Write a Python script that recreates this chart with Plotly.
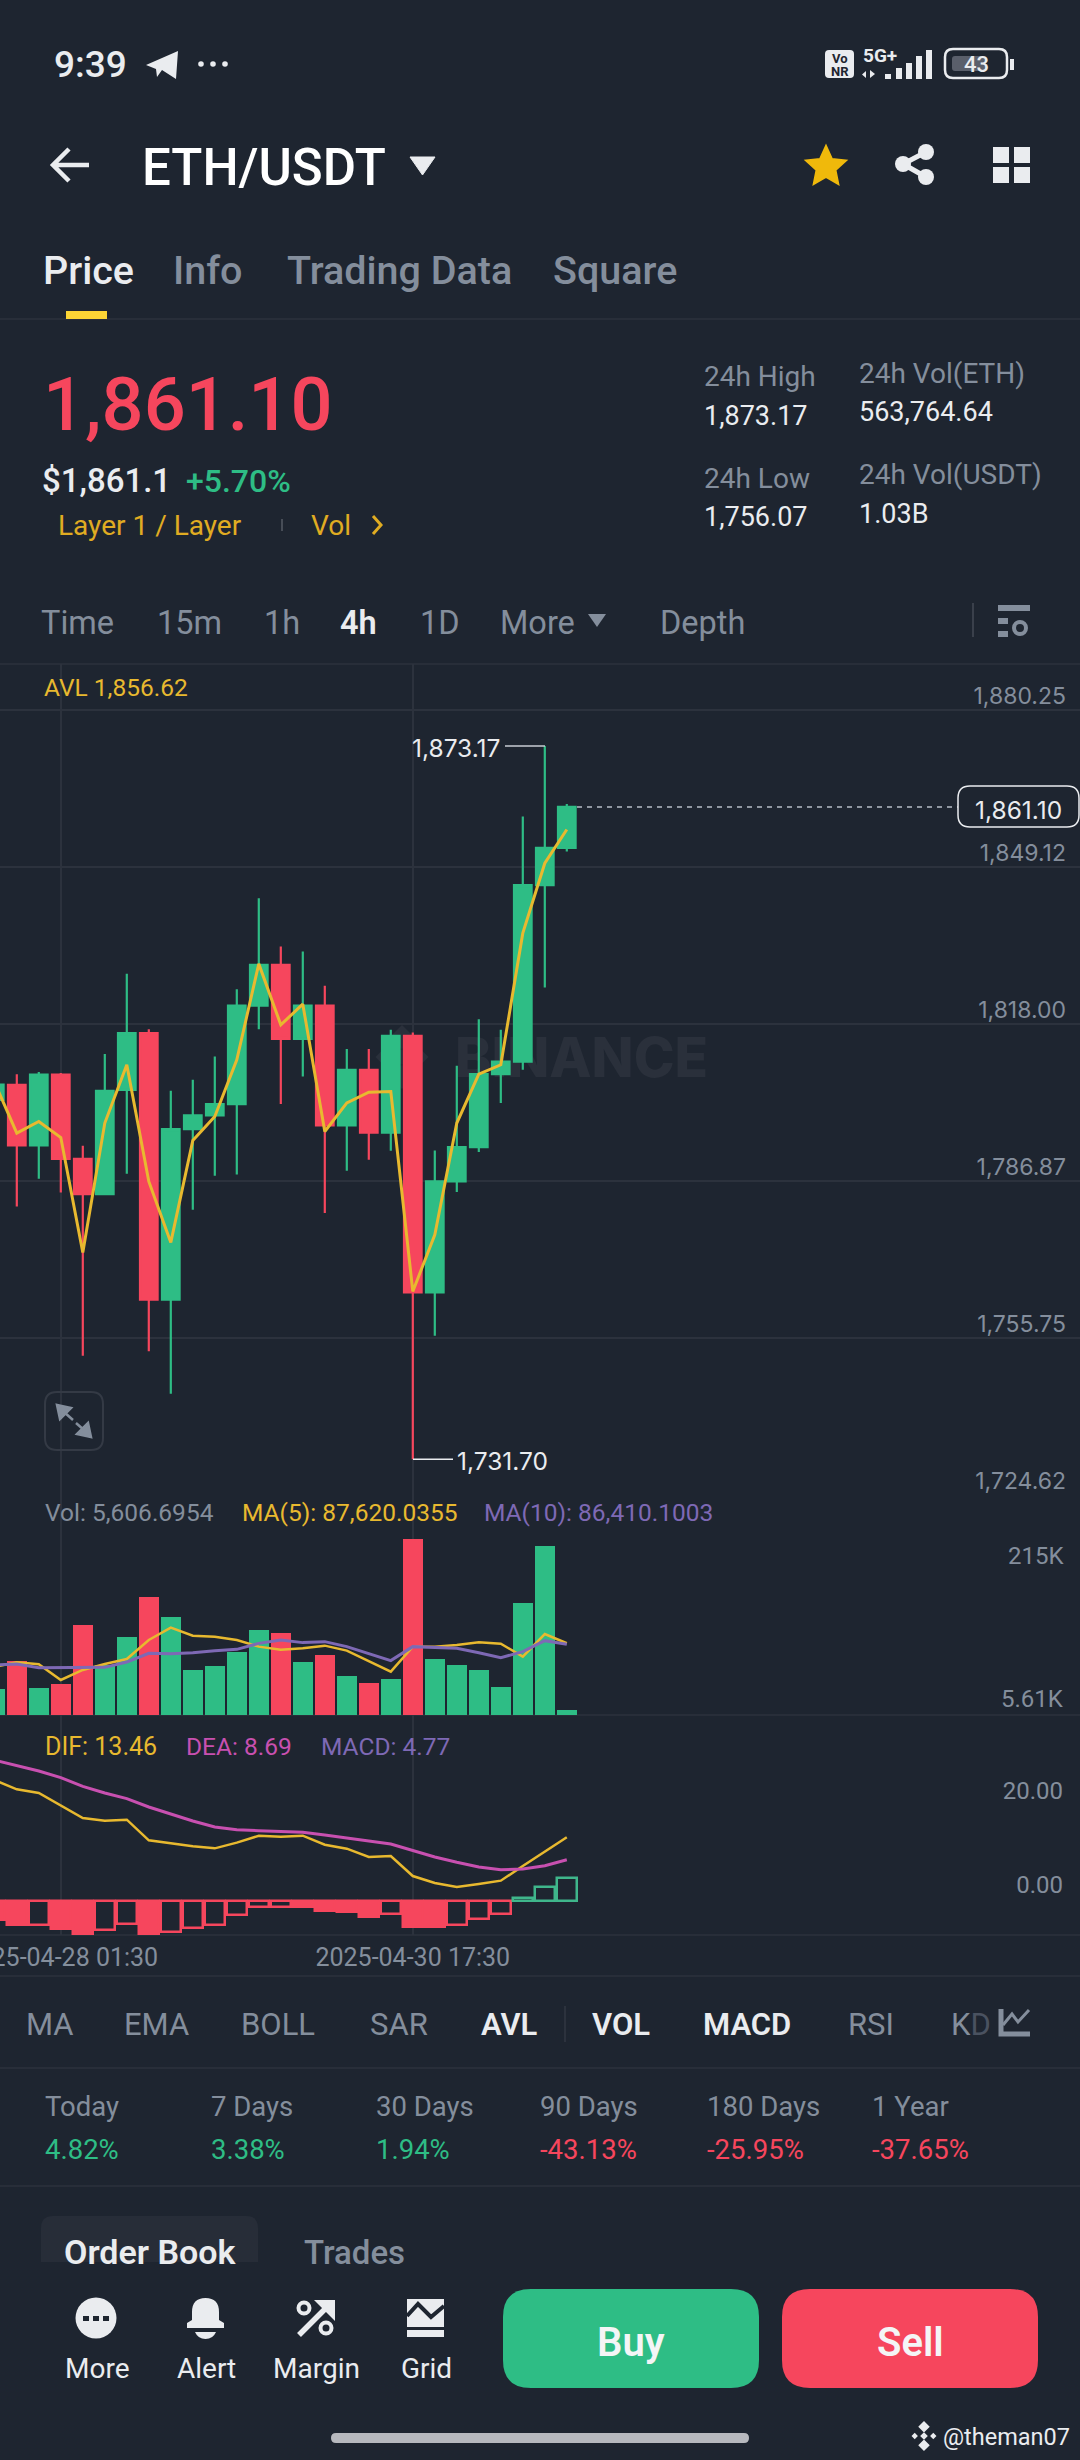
import math

import plotly.graph_objects as go

W, H = 1080, 2460
BG = "#1E2530"
GRID = "#2C323D"
GREEN = "#2EBD85"
RED = "#F6465D"
GOLD = "#F0B90B"
YEL = "#E8B92F"
GRAY = "#848E9C"
LIGHT = "#EAECEF"
PURPLE = "#7E69B5"
MAGENTA = "#C850B0"
FONT = "Roboto"

# -- data ---------------------------------------------------------------
candle_x = list(range(-1, 26))
opens = [1803.00, 1805.98, 1793.95, 1808.02, 1791.31, 1784.31, 1804.99, 1816.23, 1763.36,
         1797.20, 1799.90, 1802.16, 1821.70, 1829.77, 1815.10, 1821.70, 1797.91, 1808.96,
         1796.47, 1815.70, 1764.80, 1786.81, 1793.63, 1808.10, 1810.60, 1845.57, 1852.97]
highs = [1807.00, 1808.10, 1808.50, 1808.30, 1793.89, 1812.07, 1827.99, 1817.02, 1804.79,
         1806.97, 1811.59, 1824.96, 1843.00, 1833.40, 1832.41, 1825.61, 1813.06, 1813.06,
         1816.89, 1816.35, 1792.96, 1809.75, 1819.01, 1816.89, 1859.18, 1873.17, 1861.69]
lows = [1802.00, 1781.85, 1787.34, 1784.63, 1752.25, 1784.31, 1788.34, 1753.11, 1744.72,
        1781.20, 1787.94, 1788.20, 1817.02, 1802.16, 1807.63, 1780.54, 1788.93, 1791.11,
        1792.90, 1731.70, 1756.22, 1784.71, 1792.64, 1802.35, 1808.96, 1825.27, 1852.24]
closes = [1806.00, 1793.95, 1808.02, 1791.31, 1784.31, 1804.79, 1816.23, 1763.36, 1797.20,
          1799.90, 1802.16, 1821.70, 1829.77, 1815.10, 1821.70, 1797.91, 1808.96, 1796.47,
          1815.70, 1764.80, 1786.81, 1793.63, 1808.10, 1810.60, 1845.57, 1852.97, 1861.10]
avl = [1806.38, 1796.41, 1798.70, 1795.53, 1772.73, 1798.39, 1809.95, 1786.81, 1774.72,
       1794.94, 1799.70, 1810.94, 1829.97, 1817.88, 1821.98, 1796.72, 1802.41, 1804.53,
       1804.65, 1765.00, 1776.24, 1798.39, 1808.10, 1809.95, 1836.06, 1849.94, 1856.62]
volume = [31.8, 65.6, 32.6, 37.5, 110.4, 61.1, 95.7, 143.7, 119.3, 55.4, 60.3, 77.4, 104.2,
          100.6, 64.3, 73.7, 47.6, 39.1, 43.6, 215.0, 68.0, 61.1, 54.6, 34.6, 136.4, 206.9, 5.61]
vol_ma5 = [59.0, 64.3, 61.9, 42.8, 55.0, 62.3, 68.4, 91.6, 106.7, 96.9, 95.7, 91.6, 83.5,
           79.8, 81.4, 84.7, 78.6, 66.0, 52.9, 83.5, 83.5, 85.5, 88.8, 87.1, 71.3, 98.9, 87.62]
vol_ma10 = [61.1, 62.3, 57.8, 57.8, 57.8, 58.2, 64.7, 75.3, 74.9, 76.1, 78.6, 80.2, 87.5,
            91.6, 88.4, 89.6, 83.5, 75.3, 66.4, 83.5, 82.7, 81.4, 76.1, 70.0, 77.4, 90.8, 86.41]
dif = [25.46, 23.56, 22.78, 20.18, 17.51, 16.95, 17.16, 12.80, 12.10, 11.53, 11.11, 12.31, 13.78,
       13.57, 13.78, 11.88, 11.04, 9.28, 9.49, 5.27, 3.80, 2.95, 3.59, 4.29, 7.38, 10.48, 13.46]
dea = [29.68, 28.62, 27.43, 26.02, 24.19, 22.78, 21.59, 19.83, 18.28, 16.88, 15.61, 15.05, 14.84,
       14.63, 14.49, 13.92, 13.36, 12.66, 12.03, 10.69, 9.28, 8.16, 7.17, 6.61, 6.75, 7.45, 8.69]
macd = [-4.08, -5.13, -4.99, -5.84, -6.96, -6.19, -4.78, -7.24, -6.54, -5.63, -4.99, -3.02, -1.30,
        -1.20, -1.30, -2.18, -2.39, -3.38, -2.67, -5.41, -5.56, -5.13, -3.80, -2.67, 0.70, 2.95, 4.77]

price_ticks = [1880.25, 1849.12, 1818.00, 1786.87, 1755.75, 1724.62]
price_labels = ["1,880.25", "1,849.12", "1,818.00", "1,786.87", "1,755.75", "1,724.62"]
macd_ticks = [20, 0]
macd_labels = ["20.00", "0.00"]
date_ticks = [2, 18]
date_labels = ["2025-04-28 01:30", "2025-04-30 17:30"]
last_price = 1861.10
high_price = 1873.17
low_price = 1731.70

tabs = [("Price", 42, LIGHT), ("Info", 172, GRAY), ("Trading Data", 286, GRAY), ("Square", 552, GRAY)]
intervals = [("Time", 40, GRAY), ("15m", 156, GRAY), ("1h", 263, GRAY), ("4h", 339, LIGHT),
             ("1D", 419, GRAY), ("More", 499, GRAY), ("Depth", 659, GRAY)]
indicators = [("MA", 25, GRAY), ("EMA", 123, GRAY), ("BOLL", 240, GRAY), ("SAR", 369, GRAY),
              ("AVL", 480, LIGHT), ("VOL", 591, LIGHT), ("MACD", 702, LIGHT), ("RSI", 847, GRAY),
              ("K<span style='color:#4A5260'>D</span>", 950, GRAY)]
periods = ["Today", "7 Days", "30 Days", "90 Days", "180 Days", "1 Year"]
period_x = [44, 210, 375, 539, 706, 871]
period_vals = ["4.82%", "3.38%", "1.94%", "-43.13%", "-25.95%", "-37.65%"]
footer = [("More", 97), ("Alert", 206), ("Margin", 316), ("Grid", 426)]


# -- helpers: everything on the phone chrome is placed in screen pixels ---
annots = []
shapes = []


def dom(top, bottom):
    return [1 - bottom / H, 1 - top / H]


def text(x, y, s, size, color, anchor="left", weight=400, family=FONT):
    annots.append(dict(xref="x4", yref="y4", x=x, y=y, text=s, showarrow=False, xanchor=anchor,
                       yanchor="middle", borderpad=0,
                       font=dict(size=size, color=color, family=family, weight=weight)))


def rect(x0, y0, x1, y1, fill):
    shapes.append(dict(type="rect", xref="x4", yref="y4", x0=x0, y0=y0, x1=x1, y1=y1,
                       fillcolor=fill, line_width=0))


def circle(cx, cy, r, fill, line=None, lw=0):
    shapes.append(dict(type="circle", xref="x4", yref="y4", x0=cx - r, y0=cy - r, x1=cx + r, y1=cy + r,
                       fillcolor=fill, line=dict(color=line or fill, width=lw)))


def path(d, fill=None, line=None, lw=0):
    shapes.append(dict(type="path", xref="x4", yref="y4", path=d,
                       fillcolor=fill or "rgba(0,0,0,0)", line=dict(color=line or "rgba(0,0,0,0)", width=lw)))


def rrect(x0, y0, x1, y1, r):
    return (f"M{x0 + r},{y0} L{x1 - r},{y0} Q{x1},{y0} {x1},{y0 + r} L{x1},{y1 - r} Q{x1},{y1} {x1 - r},{y1} "
            f"L{x0 + r},{y1} Q{x0},{y1} {x0},{y1 - r} L{x0},{y0 + r} Q{x0},{y0} {x0 + r},{y0} Z")


def star(cx, cy, R, r):
    pts = []
    for i in range(10):
        a = -math.pi / 2 + i * math.pi / 5
        rad = R if i % 2 == 0 else r
        pts.append(f"{cx + rad * math.cos(a):.1f},{cy + rad * math.sin(a):.1f}")
    return "M" + " L".join(pts) + " Z"


def diamond(cx, cy, r):
    return f"M{cx},{cy - r} L{cx + r},{cy} L{cx},{cy + r} L{cx - r},{cy} Z "


def logo(cx, cy, R):
    k = R * 0.58
    return (diamond(cx, cy, R * 0.24) + diamond(cx - k, cy, R * 0.2) + diamond(cx + k, cy, R * 0.2)
            + diamond(cx, cy - k, R * 0.36) + diamond(cx, cy + k, R * 0.36))


# -- rules between the page sections
for yy in [319, 664, 1715, 1935, 1976, 2068, 2186]:
    shapes.append(dict(type="line", xref="paper", yref="paper", x0=0, x1=1, y0=1 - yy / H, y1=1 - yy / H,
                       line=dict(color=GRID, width=1.5), layer="below"))

# -- watermark sits under the candles
shapes.append(dict(type="rect", xref="paper", yref="paper", x0=451 / W, x1=712 / W, y0=1 - 1076 / H,
                   y1=1 - 1034 / H, line_width=0, fillcolor="rgba(0,0,0,0)", layer="below",
                   label=dict(text="BINANCE", textposition="middle center",
                              font=dict(family="Inter", size=55, color="#2A303B", weight=800))))
k_x, k_y = 34 / W, 34 / H
marks = [(0, 0, 0.24), (-0.58, 0, 0.2), (0.58, 0, 0.2), (0, -0.58, 0.36), (0, 0.58, 0.36)]
for dx, dy, rr in marks:
    shapes.append(dict(type="path", xref="paper", yref="paper", fillcolor="#2A303B", line_width=0, layer="below",
                       path=(f"M{402 / W + dx * k_x},{1 - 1057 / H + (dy + rr) * k_y} "
                             f"L{402 / W + (dx + rr) * k_x},{1 - 1057 / H + dy * k_y} "
                             f"L{402 / W + dx * k_x},{1 - 1057 / H + (dy - rr) * k_y} "
                             f"L{402 / W + (dx - rr) * k_x},{1 - 1057 / H + dy * k_y} Z")))

# -- status bar
text(53, 64, "9:39", 37, LIGHT, weight=500)
path("M146,65 L178,51 L176,79 L162,70 L157,77 L156,69 Z", fill=LIGHT)
for cx in [201, 213, 225]:
    circle(cx, 64, 2.8, LIGHT)
path(rrect(825, 50, 854, 78, 4), fill=LIGHT)
text(839.5, 58, "Vo", 13, BG, "center", 700)
text(839.5, 71, "NR", 13, BG, "center", 700)
text(862, 55, "5G+", 19, LIGHT, weight=700)
path("M866,71 L866,78 L862,74.5 Z M870,70 L870,78 L875,74 Z", fill=LIGHT)
for bx, top in zip([885, 896, 906, 916, 926], [74, 68, 63, 56, 50]):
    rect(bx, top, bx + 6, 79, LIGHT)
path(rrect(945, 49, 1007, 78, 8), line=LIGHT, lw=2.5)
path(rrect(952, 56, 986, 71, 3), fill="#5A5F6B")
text(976, 64, "43", 22, LIGHT, "center", 500)
rect(1010, 59, 1014, 70, LIGHT)

# -- title bar
path("M89,165 L53,165 M69,149 L53,165 L69,181", line=LIGHT, lw=4.5)
text(141, 167, "ETH/USDT", 51, "#FFFFFF", weight=500)
path("M410,157 L435,157 L422.5,175 Z", fill=LIGHT, line=LIGHT, lw=1)
path(star(826, 167, 21, 10), fill=GOLD, line=GOLD, lw=2)
path("M926,152 L903,164 L926,177", line=LIGHT, lw=5)
for cx, cy in [(926, 152), (926, 177), (903, 164)]:
    circle(cx, cy, 8, LIGHT)
for x0, y0 in [(993, 147), (1014, 147), (993, 167), (1014, 167)]:
    rect(x0, y0, x0 + 16, y0 + 16, LIGHT)

# -- tabs
for name, x, col in tabs:
    text(x, 270, name, 39.5, col, weight=500)
rect(66, 311, 107, 319, "#FCD535")

# -- price header
text(42, 404, "1,861.10", 74, RED, weight=500)
text(41, 480, "$1,861.1", 33, LIGHT, weight=500)
text(185, 481, "+5.70%", 32, GREEN, weight=500)
text(57, 525, "Layer 1 / Layer", 28, "#E0AC22")
rect(281, 519, 283, 531, "#474D57")
text(310, 525, "Vol", 28, "#E0AC22")
path("M373,516 L381,525 L373,534", line="#E0AC22", lw=3)
text(703, 376, "24h High", 28, GRAY)
text(703, 416, "1,873.17", 27, LIGHT)
text(858, 373, "24h Vol(ETH)", 28, GRAY)
text(858, 412, "563,764.64", 27, LIGHT)
text(703, 478, "24h Low", 28, GRAY)
text(703, 517, "1,756.07", 27, LIGHT)
text(858, 474, "24h Vol(USDT)", 28, GRAY)
text(858, 514, "1.03B", 27, LIGHT)

# -- interval row
for name, x, col in intervals:
    text(x, 623, name, 32.5, col, weight=600 if col == LIGHT else 400)
path("M588,614 L606,614 L597,627 Z", fill=GRAY)
rect(972, 603, 974, 637, "#3A404B")
rect(998, 605, 1030, 611, GRAY)
rect(998, 618, 1008, 624, GRAY)
rect(998, 631, 1008, 637, GRAY)
circle(1020, 628, 6, BG, GRAY, 4)

# -- chart captions
text(43, 687, "AVL 1,856.62", 24.5, YEL)
text(411, 748, "1,873.17", 24.5, LIGHT, family="Inter")
text(456, 1461, "1,731.70", 24.5, LIGHT, family="Inter")
text(44, 1512, "Vol: 5,606.6954", 24.5, GRAY)
text(241, 1512, "MA(5): 87,620.0355", 24.5, YEL)
text(483, 1512, "MA(10): 86,410.1003", 24.5, PURPLE)
text(44, 1746, "DIF: 13.46", 25, YEL)
text(185, 1746, "DEA: 8.69", 24.5, MAGENTA)
text(320, 1746, "MACD: 4.77", 24.5, PURPLE)
text(1065, 1556, "215K", 24, GRAY, "right")
text(1065, 1699, "5.61K", 24, GRAY, "right")

# leader lines and the last price marker
shapes.append(dict(type="line", xref="x4", yref="y", x0=505, x1=545, y0=high_price, y1=high_price,
                   line=dict(color="#C9CDD3", width=1.5)))
shapes.append(dict(type="line", xref="x4", yref="y", x0=413, x1=453, y0=low_price, y1=low_price,
                   line=dict(color=LIGHT, width=1.5)))
shapes.append(dict(type="line", xref="x4", yref="y", x0=577, x1=958, y0=last_price, y1=last_price,
                   line=dict(color="#B7BDC6", width=1.5, dash="5px,5px")))
path(rrect(958, 786, 1079, 827, 12), fill=BG, line=LIGHT, lw=1.5)
text(1018.5, 810, "1,861.10", 24.5, LIGHT, "center", family="Inter")

# expand button
path(rrect(45, 1392, 103, 1450, 12), line="#343A45", lw=2)
path("M57,1405 L71,1408 L60,1419 Z M64,1412 L73,1420 M91,1437 L77,1434 L88,1423 Z M84,1430 L76,1423",
     fill=GRAY, line=GRAY, lw=2.5)

# -- indicator row and period stats
for name, x, col in indicators:
    text(x, 2024, name, 31, col, weight=600 if col == LIGHT else 400)
rect(564, 2006, 566, 2042, "#2C323D")
path("M1001,2009 L1001,2034 L1030,2034", line=GRAY, lw=5)
path("M1003,2025 L1012,2014 L1018,2022 L1029,2010", line=GRAY, lw=3)
for name, x, val in zip(periods, period_x, period_vals):
    text(x, 2106, name, 27.5, GRAY)
    text(x, 2149, val, 27.5, RED if val.startswith("-") else GREEN)

# -- order book tabs
path("M41,2262 L41,2228 Q41,2216 53,2216 L246,2216 Q258,2216 258,2228 L258,2262 Z", fill="#272D38")
text(63, 2252, "Order Book", 34, LIGHT, weight=600)
text(303, 2252, "Trades", 33, GRAY, weight=500)

# -- bottom bar
circle(96, 2318, 20.5, LIGHT)
for bx in [83, 93, 103]:
    rect(bx, 2316, bx + 6, 2321, BG)
path("M187,2328 L187,2323 L192,2320 L192,2312 Q192,2298 205.5,2298 Q219,2298 219,2312 L219,2320 L224,2323 L224,2328 Z",
     fill=LIGHT)
path("M195,2332 L216,2332 Q213,2339 205.5,2339 Q198,2339 195,2332 Z", fill=LIGHT)
path("M299,2335 L328,2306", line=LIGHT, lw=5.5)
path("M314,2300 L335,2300 L335,2321 Z", fill=LIGHT)
circle(304, 2308, 5.5, BG, LIGHT, 4)
circle(326, 2328, 5.5, BG, LIGHT, 4)
rect(407, 2299, 444, 2327, LIGHT)
path("M407,2316 L418,2304 L431,2317 L444,2306", line=BG, lw=4)
rect(407, 2330, 444, 2337, LIGHT)
for name, x in footer:
    text(x, 2368, name, 28, LIGHT, "center")
path(rrect(503, 2289, 759, 2388, 28), fill=GREEN)
path(rrect(782, 2289, 1038, 2388, 28), fill=RED)
text(631, 2342, "Buy", 40, "#F4F5F6", "center", 600)
text(910, 2342, "Sell", 40, "#F4F5F6", "center", 600)
path(rrect(331, 2433, 749, 2443, 5), fill="#B7B9BE")
path(logo(924, 2436, 16), fill=LIGHT)
text(942, 2437, "@theman07", 23.5, LIGHT)

# -- traces
fig = go.Figure()
fig.add_trace(go.Candlestick(
    x=candle_x, open=opens, high=highs, low=lows, close=closes, whiskerwidth=0,
    increasing=dict(line=dict(color=GREEN, width=2.2), fillcolor=GREEN),
    decreasing=dict(line=dict(color=RED, width=2.2), fillcolor=RED),
    xaxis="x", yaxis="y", hoverinfo="skip"))
fig.add_trace(go.Scatter(x=candle_x, y=avl, mode="lines", line=dict(color=YEL, width=3),
                         xaxis="x", yaxis="y", hoverinfo="skip"))

bar_colors = [GREEN if c >= o else RED for o, c in zip(opens, closes)]
fig.add_trace(go.Bar(x=candle_x, y=volume, width=0.89, marker=dict(color=bar_colors, line_width=0),
                     xaxis="x2", yaxis="y2", hoverinfo="skip"))
fig.add_trace(go.Scatter(x=candle_x, y=vol_ma5, mode="lines", line=dict(color=YEL, width=2.5),
                         xaxis="x2", yaxis="y2", hoverinfo="skip"))
fig.add_trace(go.Scatter(x=candle_x, y=vol_ma10, mode="lines", line=dict(color=PURPLE, width=3),
                         xaxis="x2", yaxis="y2", hoverinfo="skip"))

# a MACD bar is solid when it falls from the one before, outlined when it rises
macd_line = ["#3FB68B" if v >= 0 else RED for v in macd]
macd_fill = [RED if i and v < macd[i - 1] else "rgba(0,0,0,0)" for i, v in enumerate(macd)]
macd_fill[0] = RED
fig.add_trace(go.Bar(x=candle_x, y=macd, width=0.92,
                     marker=dict(color=macd_fill, line=dict(color=macd_line, width=2.5)),
                     xaxis="x3", yaxis="y3", hoverinfo="skip"))
fig.add_trace(go.Scatter(x=candle_x, y=dif, mode="lines", line=dict(color=YEL, width=2.5),
                         xaxis="x3", yaxis="y3", hoverinfo="skip"))
fig.add_trace(go.Scatter(x=candle_x, y=dea, mode="lines", line=dict(color=MAGENTA, width=3),
                         xaxis="x3", yaxis="y3", hoverinfo="skip"))

x_range = [-0.7636, 48.3274]
x_common = dict(range=x_range, tickmode="array", tickvals=date_ticks, showgrid=True, gridcolor=GRID,
                gridwidth=1.5, zeroline=False, showline=False, ticks="", fixedrange=True, automargin=False)
y_tick_font = dict(family="Inter", size=23, color=GRAY)

fig.update_layout(
    width=W, height=H, margin=dict(l=0, r=0, t=0, b=0, pad=0, autoexpand=False), showlegend=False,
    paper_bgcolor=BG, plot_bgcolor="rgba(0,0,0,0)", boxgap=0.2, boxgroupgap=0, bargap=0,
    xaxis=dict(x_common, domain=[0, 1], anchor="y", showticklabels=False, rangeslider=dict(visible=False)),
    yaxis=dict(domain=dom(664, 1495), range=[1724.62, 1889.45], side="right", anchor="x", automargin=False,
               tickmode="array", tickvals=price_ticks, ticktext=price_labels, gridcolor=GRID, gridwidth=1.5,
               zeroline=False, ticks="", ticklabelposition="inside", ticklabelstandoff=11, ticklabelshift=-14,
               ticklabeloverflow="allow", tickfont=y_tick_font),
    xaxis2=dict(x_common, domain=[0, 1], anchor="y2", showticklabels=False),
    yaxis2=dict(domain=dom(1495, 1715), range=[0, 268.7], anchor="x2", visible=False),
    xaxis3=dict(x_common, domain=[0, 1], anchor="y3", ticktext=date_labels, ticklabeloverflow="allow",
                ticklen=0, tickfont=dict(family=FONT, size=25, color=GRAY), ticklabelstandoff=5),
    yaxis3=dict(domain=dom(1715, 1935), range=[-7.17, 39.24], side="right", anchor="x3", tickmode="array",
                tickvals=macd_ticks, ticktext=macd_labels, showgrid=False, zeroline=False, ticks="", automargin=False,
                ticklabelposition="inside", ticklabelstandoff=14, ticklabelshift=-16, ticklabeloverflow="allow",
                tickfont=dict(family=FONT, size=24, color=GRAY)),
    xaxis4=dict(domain=[0, 1], range=[0, W], anchor="y4", visible=False, fixedrange=True),
    yaxis4=dict(domain=[0, 1], range=[H, 0], anchor="x4", visible=False, fixedrange=True),
    annotations=annots, shapes=shapes,
)

fig.write_html("out.html", config={"displayModeBar": False},
               post_script="document.body.style.margin='0';document.body.style.overflow='hidden';")
